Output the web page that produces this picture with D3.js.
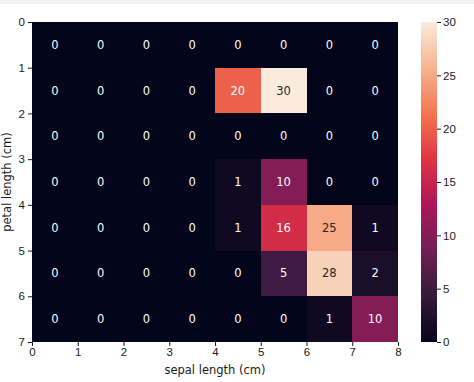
<!DOCTYPE html>
<html>
<head>
<meta charset="utf-8">
<script src="https://cdn.jsdelivr.net/npm/d3@7"></script>
<style>
  body { margin: 0; background: #fff; }
  svg { display: block; font-family: "DejaVu Sans", sans-serif; }
  .tick text { font-size: 11.5px; fill: #1a1a1a; }
  .tick line { stroke: #1a1a1a; }
  .domain { display: none; }
</style>
</head>
<body>
<svg width="474" height="382"></svg>
<script>
// sepal length bins (columns) and petal length bins (rows)
var xTicks = [0, 1, 2, 3, 4, 5, 6, 7, 8];
var yTicks = [0, 1, 2, 3, 4, 5, 6, 7];
var barTicks = [0, 5, 10, 15, 20, 25, 30];

// counts, one array per row (petal length bin)
var row0 = [0, 0, 0, 0, 0, 0, 0, 0];
var row1 = [0, 0, 0, 0, 20, 30, 0, 0];
var row2 = [0, 0, 0, 0, 0, 0, 0, 0];
var row3 = [0, 0, 0, 0, 1, 10, 0, 0];
var row4 = [0, 0, 0, 0, 1, 16, 25, 1];
var row5 = [0, 0, 0, 0, 0, 5, 28, 2];
var row6 = [0, 0, 0, 0, 0, 0, 1, 10];
var rows = [row0, row1, row2, row3, row4, row5, row6];

// rocket colormap approximation
var rocketStops = ["#03051a", "#35193e", "#701f57", "#ad1759", "#e13342", "#f37651", "#f6b48f", "#faebdd"];

var svg = d3.select("svg");

// faint strip at top of the page
svg.append("rect").attr("x", 0).attr("y", 0).attr("width", 474).attr("height", 4).attr("fill", "#f2f2f2");

var pLeft = 32, pRight = 398, pTop = 22, pBottom = 342;

var x = d3.scaleLinear().domain([0, 8]).range([pLeft, pRight]);
var y = d3.scaleLinear().domain([0, 7]).range([pTop, pBottom]);

var vmax = 30;
var color = d3.scaleLinear()
    .domain(rocketStops.map((c, i) => i / (rocketStops.length - 1) * vmax))
    .range(rocketStops)
    .interpolate(d3.interpolateRgb);

var cells = [];
rows.forEach((r, i) => r.forEach((v, j) => cells.push({ row: i, col: j, value: v })));

svg.append("g")
    .attr("shape-rendering", "crispEdges")
    .selectAll("rect.cell")
    .data(cells)
    .enter()
    .append("rect")
    .attr("class", "cell")
    .attr("x", d => Math.round(x(d.col)))
    .attr("y", d => Math.round(y(d.row)))
    .attr("width", d => Math.round(x(d.col + 1)) - Math.round(x(d.col)))
    .attr("height", d => Math.round(y(d.row + 1)) - Math.round(y(d.row)))
    .attr("fill", d => color(d.value));

// annotations: light text on dark cells, dark text on light ones
function luminance(c) {
    var rgb = d3.rgb(c);
    var f = v => { v /= 255; return v <= 0.03928 ? v / 12.92 : Math.pow((v + 0.055) / 1.055, 2.4); };
    return 0.2126 * f(rgb.r) + 0.7152 * f(rgb.g) + 0.0722 * f(rgb.b);
}

svg.selectAll("text.annot")
    .data(cells)
    .enter()
    .append("text")
    .attr("class", "annot")
    .attr("x", d => x(d.col + 0.5))
    .attr("y", d => y(d.row + 0.5))
    .attr("text-anchor", "middle")
    .attr("dominant-baseline", "central")
    .style("font-size", "11.5px")
    .attr("fill", d => luminance(color(d.value)) > 0.408 ? "#262626" : "#ffffff")
    .text(d => d.value);

// axes
svg.append("g")
    .attr("transform", "translate(0," + pBottom + ")")
    .call(d3.axisBottom(x).tickValues(xTicks).tickFormat(d3.format("d")).tickSizeOuter(0).tickSize(4).tickPadding(2));

svg.append("g")
    .attr("transform", "translate(" + pLeft + ",0)")
    .call(d3.axisLeft(y).tickValues(yTicks).tickFormat(d3.format("d")).tickSizeOuter(0).tickSize(4).tickPadding(3));

svg.append("text")
    .attr("x", (pLeft + pRight) / 2)
    .attr("y", 374)
    .attr("text-anchor", "middle")
    .style("font-size", "11.5px")
    .attr("fill", "#1a1a1a")
    .text("sepal length (cm)");

svg.append("text")
    .attr("transform", "translate(11," + (pTop + pBottom) / 2 + ") rotate(-90)")
    .attr("text-anchor", "middle")
    .style("font-size", "11.5px")
    .attr("fill", "#1a1a1a")
    .text("petal length (cm)");

// colorbar
var cbX = 421, cbW = 16;
var cb = d3.scaleLinear().domain([0, vmax]).range([pBottom, pTop]);

var defs = svg.append("defs");
var grad = defs.append("linearGradient")
    .attr("id", "cbgrad")
    .attr("x1", 0).attr("y1", 1).attr("x2", 0).attr("y2", 0);
rocketStops.forEach((c, i) => {
    grad.append("stop").attr("offset", i / (rocketStops.length - 1)).attr("stop-color", c);
});

svg.append("rect")
    .attr("x", cbX).attr("y", pTop)
    .attr("width", cbW).attr("height", pBottom - pTop)
    .attr("fill", "url(#cbgrad)");

svg.append("g")
    .attr("transform", "translate(" + (cbX + cbW) + ",0)")
    .call(d3.axisRight(cb).tickValues(barTicks).tickSizeOuter(0).tickSize(4).tickPadding(2));
</script>
</body>
</html>
